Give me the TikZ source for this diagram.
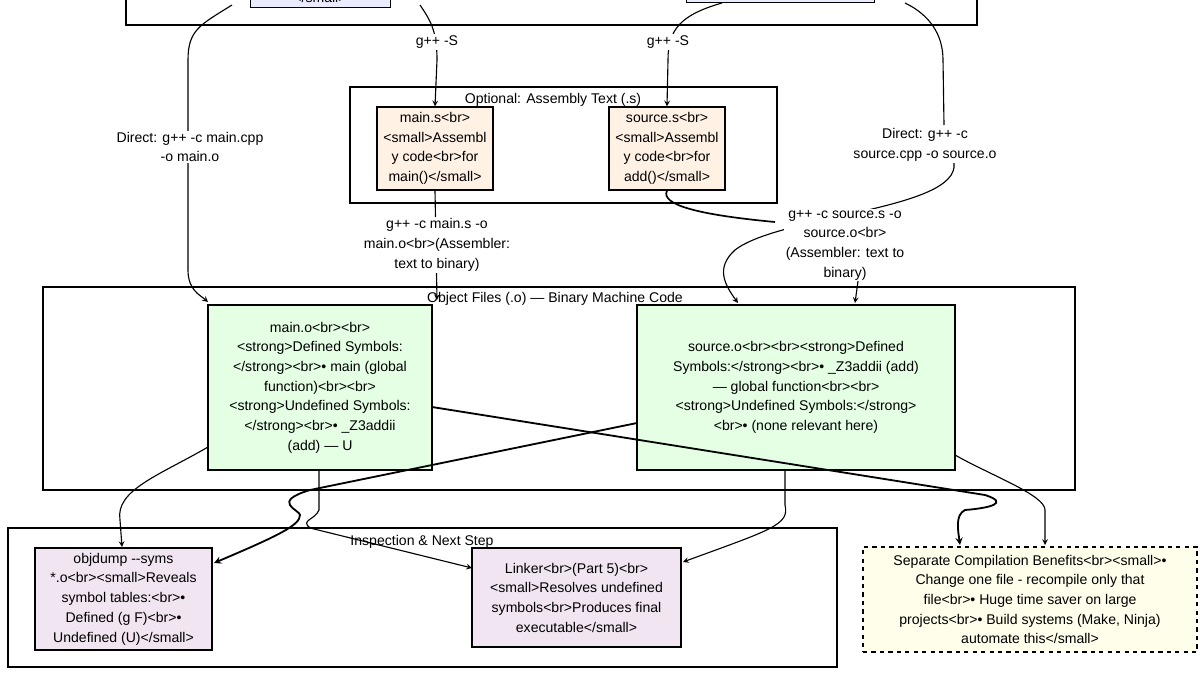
\documentclass[tikz,border=0pt]{standalone}
\usepackage{fontspec}
\setmainfont{Liberation Sans}
\begin{document}
\begin{tikzpicture}[x=0.025cm,y=-0.025cm,
  every node/.style={font=\fontsize{10}{14}\selectfont,align=center},
  box/.style={draw=black,line width=0.9pt,inner sep=0pt},
  cont/.style={draw=black,line width=1pt},
  lbl/.style={fill=white,inner sep=1pt},
  arr/.style={->,>=stealth,line width=0.8pt},
  ttl/.style={inner sep=0pt,fill=white}]
\useasboundingbox (0,0) rectangle (1200,675);
\clip (0,0) rectangle (1200,675);
% top container and partial boxes
\draw[cont] (126,-40) rectangle (977,25);
\node[box,fill=blue!8,minimum width=140*0.025cm,minimum height=40*0.025cm,anchor=south west] (srcA) at (250,8) {};
\node at (320,-3) {</small>};
\node[box,fill=blue!8,minimum width=188*0.025cm,minimum height=40*0.025cm,anchor=south west] (srcB) at (686,3) {};
\coordinate (a1) at (232,5);
\coordinate (a2) at (420,5);
\coordinate (b1) at (722,3);
\coordinate (b2) at (905,3);
% assembly container
\draw[cont] (350,87) rectangle (777,203);
\node[ttl] (asmT) at (553,100) {Optional: Assembly Text (.s)};
\node[box,fill=orange!10,minimum width=116*0.025cm,minimum height=83*0.025cm] (mains) at (435,148.5) {main.s<br>\\<small>Assembl\\y code<br>for\\main()</small>};
\node[box,fill=orange!10,minimum width=116*0.025cm,minimum height=83*0.025cm] (srcs) at (667,148.5) {source.s<br>\\<small>Assembl\\y code<br>for\\add()</small>};
% object files container
\draw[cont] (43,287) rectangle (1075,490);
\node[ttl] (objT) at (555,299) {Object Files (.o) — Binary Machine Code};
\node[box,fill=green!10,minimum width=224*0.025cm,minimum height=165*0.025cm] (maino) at (320,387.5) {main.o<br><br>\\<strong>Defined Symbols:\\</strong><br>• main (global\\function)<br><br>\\<strong>Undefined Symbols:\\</strong><br>• \_Z3addii\\(add) — U};
\node[box,fill=green!10,minimum width=318*0.025cm,minimum height=165*0.025cm] (srco) at (796,387.5) {source.o<br><br><strong>Defined\\Symbols:</strong><br>• \_Z3addii (add)\\— global function<br><br>\\<strong>Undefined Symbols:</strong>\\<br>• (none relevant here)};
% inspection container
\draw[cont] (8,528) rectangle (837,667);
\node[ttl] (insT) at (422,542) {Inspection \& Next Step};
\node[box,fill=violet!10,minimum width=177*0.025cm,minimum height=102*0.025cm] (objd) at (123.5,599) {objdump -{}-syms\\*.o<br><small>Reveals\\symbol tables:<br>•\\Defined (g F)<br>•\\Undefined (U)</small>};
\node[box,fill=violet!10,minimum width=209*0.025cm,minimum height=99*0.025cm] (lnk) at (576.5,597.5) {Linker<br>(Part 5)<br>\\<small>Resolves undefined\\symbols<br>Produces final\\executable</small>};
\node[box,dashed,fill=yellow!8,minimum width=334*0.025cm,minimum height=105*0.025cm] (sep) at (1030,599.5) {Separate Compilation Benefits<br><small>•\\Change one file - recompile only that\\file<br>• Huge time saver on large\\projects<br>• Build systems (Make, Ninja)\\automate this</small>};
% edges top
\draw[arr] (a1) .. controls (200,25) and (188,30) .. (188,60) -- (188,270) .. controls (188,290) and (200,295) .. (208,302);
\node[lbl] at (190,147) {Direct: g++ -c main.cpp\\-o main.o};
\draw[arr] (a2) .. controls (430,20) and (437,30) .. (437,60) -- (mains.north);
\node[lbl] at (437,42) {g++ -S};
\draw[arr] (b1) .. controls (680,15) and (668,30) .. (668,60) -- (srcs.north);
\node[lbl] at (668,42) {g++ -S};
\draw[arr] (b2) .. controls (930,15) and (943,35) .. (943,60) -- (944,125)
   (954,163) .. controls (960,210) and (780,215) .. (735,250) .. controls (715,268) and (725,285) .. (738,303);
\node[lbl] at (925,145) {Direct: g++ -c\\source.cpp -o source.o};
\draw[arr] (mains.south) -- (437,300);
\node[lbl] at (437,245) {g++ -c main.s -o\\main.o<br>(Assembler:\\text to binary)};
\draw[line width=1.2pt] (srcs.south) .. controls (660,205) and (700,215) .. (775,222);
\draw[arr] (858,281) -- (855,303);
\node[lbl] at (845,245) {g++ -c source.s -o\\source.o<br>\\(Assembler: text to\\binary)};
% edges bottom
\draw[arr] (208,447) .. controls (160,475) and (115,490) .. (120,520) -- (122,547);
\draw[arr] (319,470) -- (319,510) .. controls (315,520) and (300,520) .. (310,528) -- (472,568);
\draw[arr,line width=1.3pt] (432,407) -- (985,495) .. controls (1010,503) and (990,508) .. (965,510) .. controls (955,515) and (958,530) .. (960,545);
\draw[arr,line width=1.3pt] (637,423) -- (310,490) .. controls (270,502) and (300,510) .. (300,515) .. controls (300,525) and (280,535) .. (214,563);
\draw[arr] (785,470) -- (785,505) .. controls (790,525) and (770,530) .. (683,562);
\draw[arr] (955,455) .. controls (990,475) and (1045,495) .. (1045,510) -- (1045,545);
\end{tikzpicture}
\end{document}
